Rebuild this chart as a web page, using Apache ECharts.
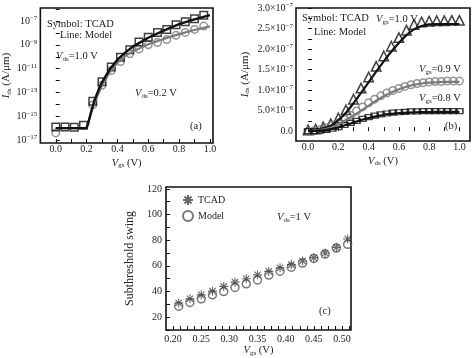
<!DOCTYPE html>
<html><head><meta charset="utf-8">
<script src="https://cdn.jsdelivr.net/npm/echarts@6/dist/echarts.min.js"></script>
<style>html,body{margin:0;padding:0;background:#fff}#c{width:474px;height:358px}</style>
</head><body><div id="c"></div>
<script>
// ---------- Panel (a): log10(Ids) vs Vgs ----------
const aVgsTcad10 = [0,0.06,0.12,0.18,0.24,0.30,0.36,0.42,0.48,0.54,0.60,0.66,0.72,0.78,0.84,0.90,0.96];
const aLogIdsTcad10 = [-15.9,-15.9,-15.92,-15.75,-13.75,-12.1,-10.85,-10.05,-9.4,-8.75,-8.35,-7.95,-7.7,-7.3,-7.05,-6.8,-6.5];
const aVgsTcad02 = [0,0.24,0.30,0.36,0.42,0.48,0.54,0.60,0.66,0.72,0.78,0.84,0.90,0.96];
const aLogIdsTcad02 = [-16.4,-14.05,-12.4,-11.15,-10.4,-9.75,-9.35,-9.0,-8.8,-8.55,-8.2,-7.95,-7.7,-7.42];
const aVgsModel10 = [0,0.2,0.21,0.23,0.25,0.28,0.30,0.35,0.40,0.45,0.50,0.60,0.70,0.80,0.90,1.0];
const aLogIdsModel10 = [-16.0,-16.0,-15.6,-14.6,-13.7,-12.7,-12.15,-11.05,-10.25,-9.65,-9.15,-8.4,-7.8,-7.25,-6.85,-6.5];
const aVgsModel02 = [0,0.2,0.21,0.23,0.25,0.30,0.35,0.40,0.45,0.50,0.60,0.70,0.80,0.90,1.0];
const aLogIdsModel02 = [-16.0,-16.0,-15.6,-14.7,-13.9,-12.4,-11.3,-10.5,-9.95,-9.55,-8.95,-8.5,-8.1,-7.75,-7.45];
const aXLabels = [0,0.2,0.4,0.6,0.8,1.0];
const aXTicks = [0,0.1,0.2,0.3,0.4,0.5,0.6,0.7,0.8,0.9,1.0];
const aYLabels = [-17,-15,-13,-11,-9,-7];
const aYTicks = [-17,-16,-15,-14,-13,-12,-11,-10,-9,-8,-7,-6];

// ---------- Panel (b): Ids (x1e-7 A/um) vs Vds ----------
const bVdsTri = [0,0.05,0.10,0.15,0.20,0.25,0.30,0.35,0.40,0.45,0.50,0.55,0.60,0.65,0.70,0.75,0.80,0.85,0.90,0.95,1.0];
const bIdsVgs10Tcad = [0.03,0.05,0.10,0.18,0.32,0.52,0.78,1.05,1.32,1.58,1.83,2.07,2.28,2.46,2.60,2.66,2.68,2.69,2.69,2.70,2.70];
const bVdsDense = [0,0.04,0.08,0.12,0.16,0.20,0.24,0.28,0.32,0.36,0.40,0.44,0.48,0.52,0.56,0.60,0.64,0.68,0.72,0.76,0.80,0.84,0.88,0.92,0.96,1.0];
const bIdsVgs09Tcad = [0.0,0.01,0.04,0.08,0.14,0.20,0.29,0.39,0.49,0.59,0.69,0.78,0.86,0.93,0.99,1.04,1.09,1.13,1.16,1.18,1.20,1.21,1.21,1.22,1.22,1.22];
const bIdsVgs08Tcad = [0.0,0.0,0.01,0.03,0.06,0.10,0.15,0.20,0.25,0.30,0.34,0.38,0.41,0.43,0.45,0.46,0.47,0.48,0.48,0.49,0.49,0.49,0.49,0.49,0.49,0.49];
const bVdsModel = [0,0.05,0.10,0.15,0.20,0.25,0.30,0.35,0.40,0.45,0.50,0.55,0.60,0.65,0.70,0.75,0.80,0.85,0.90,1.0];
const bIdsVgs10Model = [0,0.01,0.05,0.13,0.27,0.45,0.68,0.93,1.19,1.45,1.70,1.94,2.15,2.34,2.48,2.56,2.60,2.61,2.61,2.61];
const bIdsVgs09Model = [0,0.01,0.04,0.09,0.17,0.27,0.38,0.50,0.62,0.74,0.85,0.94,1.02,1.08,1.13,1.16,1.18,1.19,1.20,1.20];
const bIdsVgs08Model = [0,0.005,0.02,0.05,0.09,0.15,0.21,0.27,0.32,0.36,0.40,0.42,0.44,0.45,0.46,0.465,0.465,0.47,0.47,0.47];
const bXLabels = [0,0.2,0.4,0.6,0.8,1.0];
const bXTicks = [0,0.1,0.2,0.3,0.4,0.5,0.6,0.7,0.8,0.9,1.0];
const bYLabels = [0,0.5,1.0,1.5,2.0,2.5,3.0];
const bYTicks = [0,0.25,0.5,0.75,1.0,1.25,1.5,1.75,2.0,2.25,2.5,2.75,3.0];

// ---------- Panel (c): subthreshold swing vs Vgs ----------
const cVgs = [0.21,0.23,0.25,0.27,0.29,0.31,0.33,0.35,0.37,0.39,0.41,0.43,0.45,0.47,0.49,0.51];
const cSwingTcad = [31,34.3,37.4,40.3,44,47.3,50,53,55.7,58.5,61,63.8,66.4,70,74.4,81];
const cSwingModel = [28.6,31.5,34.3,37.4,40,43.2,46,49,52.8,55.9,59,62.2,65.8,69.2,73.9,76.8];
const cXLabels = [0.20,0.25,0.30,0.35,0.40,0.45,0.50];
const cXTicks = [0.2,0.2125,0.225,0.2375,0.25,0.2625,0.275,0.2875,0.3,0.3125,0.325,0.3375,0.35,0.3625,0.375,0.3875,0.4,0.4125,0.425,0.4375,0.45,0.4625,0.475,0.4875,0.5,0.5125];
const cYLabels = [20,40,60,80,100,120];
const cYTicks = [10,20,30,40,50,60,70,80,90,100,110,120];

const FF = 'Liberation Serif';
const TXT = '#222';
const pair = (xs, ys) => xs.map((x, i) => [x, ys[i]]);
const rich = {
  it: {fontFamily: FF, fontSize: 10.5, fontStyle: 'italic', color: TXT},
  sub: {fontFamily: FF, fontSize: 7, color: TXT, verticalAlign: 'bottom', padding: [5, 0, 0, 0]},
  sup: {fontFamily: FF, fontSize: 7, color: TXT, verticalAlign: 'top', padding: [0, 0, 5, 0]}
};

function axis(grid, pos, min, max, labels, ticks, fmt, margin, name, nameGap, nameSize) {
  return {
    type: 'value', gridIndex: grid, position: pos, min: min, max: max,
    splitLine: {show: false}, axisLine: {show: false},
    axisTick: {show: true, inside: true, length: 4, customValues: ticks, lineStyle: {color: '#111', width: 1}},
    axisLabel: {customValues: labels, formatter: fmt, margin: margin, fontFamily: FF, fontSize: 10, color: TXT, rich: rich},
    name: name, nameLocation: 'middle', nameGap: nameGap,
    nameTextStyle: {fontFamily: FF, fontSize: nameSize || 10.5, color: TXT, rich: rich}
  };
}

const supLabel = v => '10{sup|−' + Math.abs(v) + '}';
const bLabel = v => v === 0 ? '0.0' : (v === 0.5 ? '5.0×10{sup|−8}' : v.toFixed(1) + '×10{sup|−7}');

function hollow(color, bw) { return {color: 'transparent', borderColor: color, borderWidth: bw}; }

const BLK = '#111', GRY = '#7a7a7a';

function txt(x, y, text, size) {
  return {type: 'text', left: x, top: y, style: {text: text, fontFamily: FF, fontSize: size || 10.5, fill: TXT, rich: rich}};
}

const chart = echarts.init(document.getElementById('c'), null, {renderer: 'canvas'});
chart.setOption({
  animation: false,
  backgroundColor: '#fff',
  grid: [
    {left: 38, top: 8, width: 175, height: 135, show: true, borderColor: '#111', borderWidth: 1.6, backgroundColor: 'transparent'},
    {left: 296, top: 8, width: 174, height: 133, show: true, borderColor: '#111', borderWidth: 1.6, backgroundColor: 'transparent'},
    {left: 166, top: 187, width: 185, height: 143, show: true, borderColor: '#111', borderWidth: 1.6, backgroundColor: 'transparent'}
  ],
  xAxis: [
    axis(0, 'bottom', -0.1, 1.02, aXLabels, aXTicks, v => v.toFixed(1), 1, '{it|V}{sub|gs} (V)', 14),
    axis(1, 'bottom', -0.08, 1.07, bXLabels, bXTicks, v => v.toFixed(1), 1, '{it|V}{sub|ds} (V)', 14),
    axis(2, 'bottom', 0.1875, 0.516, cXLabels, cXTicks, v => v.toFixed(2), 4, '{it|V}{sub|gs} (V)', 12)
  ],
  yAxis: [
    axis(0, 'left', -17.25, -5.9, aYLabels, aYTicks, supLabel, 3, '{it|I}{sub|ds} (A/μm)', 24, 11),
    axis(1, 'left', -0.24, 3.0, bYLabels, bYTicks, bLabel, 3, '{it|I}{sub|ds} (A/μm)', 45, 11),
    axis(2, 'left', 10, 121.5, cYLabels, cYTicks, v => String(v), 4, 'Subthreshold swing', 30, 12)
  ],
  legend: {
    data: ['TCAD', 'Model'], orient: 'vertical', left: 182, top: 194, padding: 0,
    itemWidth: 10, itemHeight: 10, itemGap: 4,
    textStyle: {fontFamily: FF, fontSize: 10, color: TXT}
  },
  graphic: [
    txt(47, 19, 'Symbol: TCAD'), txt(60, 30, 'Line: Model'),
    txt(56, 51, '{it|V}{sub|ds}=1.0 V'), txt(135, 88, '{it|V}{sub|ds}=0.2 V'), txt(190, 121, '(a)'),
    txt(302, 13, 'Symbol: TCAD'), txt(314, 27, 'Line: Model'),
    txt(376, 14, '{it|V}{sub|gs}=1.0 V'), txt(419, 64, '{it|V}{sub|gs}=0.9 V'), txt(419, 93, '{it|V}{sub|gs}=0.8 V'), txt(445, 121, '(b)'),
    txt(277, 212, '{it|V}{sub|ds}=1 V'), txt(319, 306, '(c)')
  ],
  series: [
    // (a)
    {type: 'scatter', xAxisIndex: 0, yAxisIndex: 0, data: pair(aVgsTcad02, aLogIdsTcad02), symbol: 'circle', symbolSize: 7.5, itemStyle: hollow(GRY, 1.5)},
    {type: 'scatter', xAxisIndex: 0, yAxisIndex: 0, data: pair(aVgsTcad10, aLogIdsTcad10), symbol: 'rect', symbolSize: 7.5, itemStyle: hollow(BLK, 1.5)},
    {type: 'line', xAxisIndex: 0, yAxisIndex: 0, data: pair(aVgsModel02, aLogIdsModel02), showSymbol: false, lineStyle: {color: GRY, width: 2.2}},
    {type: 'line', xAxisIndex: 0, yAxisIndex: 0, data: pair(aVgsModel10, aLogIdsModel10), showSymbol: false, lineStyle: {color: BLK, width: 2.4}},
    // (b)
    {type: 'scatter', xAxisIndex: 1, yAxisIndex: 1, data: pair(bVdsTri, bIdsVgs10Tcad), symbol: 'triangle', symbolSize: 9.5, itemStyle: hollow(BLK, 1.5)},
    {type: 'scatter', xAxisIndex: 1, yAxisIndex: 1, data: pair(bVdsDense, bIdsVgs09Tcad), symbol: 'circle', symbolSize: 7.5, itemStyle: hollow(GRY, 1.5)},
    {type: 'scatter', xAxisIndex: 1, yAxisIndex: 1, data: pair(bVdsDense, bIdsVgs08Tcad), symbol: 'rect', symbolSize: [7, 5], itemStyle: hollow(BLK, 1.4)},
    {type: 'line', xAxisIndex: 1, yAxisIndex: 1, data: pair(bVdsModel, bIdsVgs10Model), showSymbol: false, smooth: 0.3, lineStyle: {color: BLK, width: 2.2}},
    {type: 'line', xAxisIndex: 1, yAxisIndex: 1, data: pair(bVdsModel, bIdsVgs09Model), showSymbol: false, smooth: 0.3, lineStyle: {color: GRY, width: 2.2}},
    {type: 'line', xAxisIndex: 1, yAxisIndex: 1, data: pair(bVdsModel, bIdsVgs08Model), showSymbol: false, smooth: 0.3, lineStyle: {color: BLK, width: 2.2}},
    // (c)
    {name: 'Model', type: 'scatter', xAxisIndex: 2, yAxisIndex: 2, data: pair(cVgs, cSwingModel), symbol: 'circle', symbolSize: 8, itemStyle: hollow('#555', 1.5)},
    {name: 'TCAD', type: 'scatter', xAxisIndex: 2, yAxisIndex: 2, data: pair(cVgs, cSwingTcad),
      symbol: 'path://M5,0L5,10M0,5L10,5M1.5,1.5L8.5,8.5M8.5,1.5L1.5,8.5', symbolSize: 9,
      itemStyle: {color: '#333', borderColor: '#444', borderWidth: 1.1}}
  ]
});
</script>
</body></html>
